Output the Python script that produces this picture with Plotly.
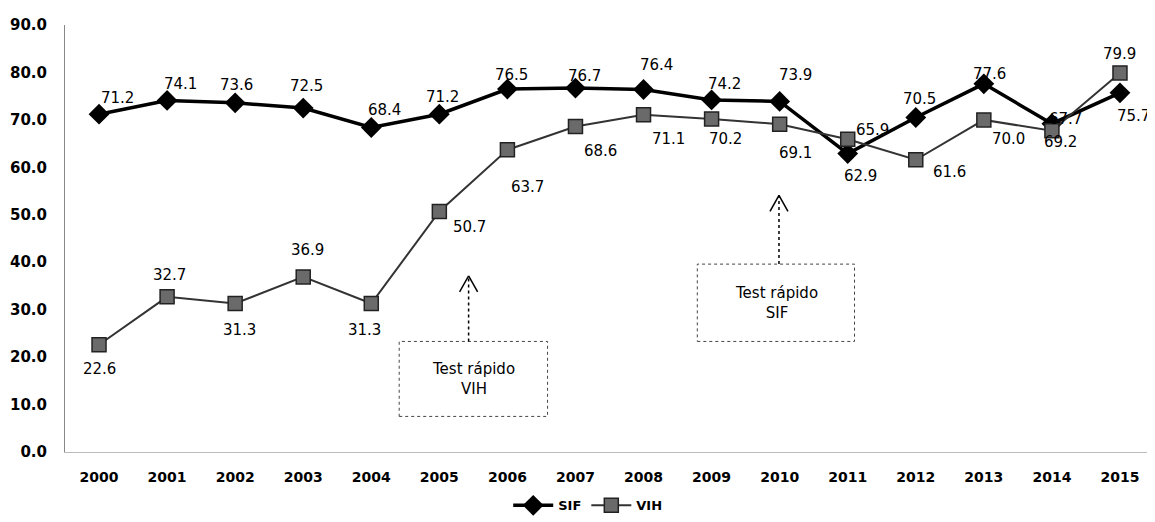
import plotly.graph_objects as go

years = list(range(2000, 2016))
sif = [71.2, 74.1, 73.6, 72.5, 68.4, 71.2, 76.5, 76.7, 76.4, 74.2, 73.9, 62.9, 70.5, 77.6, 69.2, 75.7]
vih = [22.6, 32.7, 31.3, 36.9, 31.3, 50.7, 63.7, 68.6, 71.1, 70.2, 69.1, 65.9, 61.6, 70.0, 67.7, 79.9]
y_ticks = [0, 10, 20, 30, 40, 50, 60, 70, 80, 90]

# label offsets in pixels (dx, dy with dy positive = up)
sif_off = [(18, 16), (13, 16), (1, 18), (3, 22), (13, 17), (3, 17), (4, 14), (9, 12), (13, 25),
           (13, 16), (16, 26), (13, -22), (4, 19), (6, 10), (9, -18), (14, -23)]
vih_off = [(0, -24), (2, 22), (4, -26), (4, 27), (-7, -26), (30, -16), (20, -37), (25, -24),
           (25, -24), (14, -20), (16, -29), (25, 9), (34, -12), (25, -19), (14, 12), (0, 19)]

font = "DejaVu Sans"
fig = go.Figure()
fig.add_trace(go.Scatter(x=years, y=sif, name="SIF", mode="lines+markers",
                         line=dict(color="black", width=3.5),
                         marker=dict(symbol="diamond", size=16, color="black")))
fig.add_trace(go.Scatter(x=years, y=vih, name="VIH", mode="lines+markers",
                         line=dict(color="#333333", width=2),
                         marker=dict(symbol="square", size=14, color="#6a6a6a",
                                     line=dict(color="#222222", width=1.5))))

ann = []
for x, v, (dx, dy) in zip(years, sif, sif_off):
    ann.append(dict(x=x, y=v, text=f"{v:.1f}", showarrow=False, xshift=dx, yshift=dy,
                    font=dict(family=font, size=15, color="black")))
for x, v, (dx, dy) in zip(years, vih, vih_off):
    ann.append(dict(x=x, y=v, text=f"{v:.1f}", showarrow=False, xshift=dx, yshift=dy,
                    font=dict(family=font, size=15, color="black")))

# callout boxes text
ann.append(dict(x=2005.5, y=15.4, text="Test rápido<br>VIH", showarrow=False,
                font=dict(family=font, size=15, color="black")))
ann.append(dict(x=2009.95, y=31.5, text="Test rápido<br>SIF", showarrow=False,
                font=dict(family=font, size=15, color="black")))

box_style = dict(color="#444444", width=1, dash="dot")
arrow_style = dict(color="black", width=1.5)
shapes = [
    dict(type="rect", xref="x", yref="y", x0=2004.41, x1=2006.59, y0=7.5, y1=23.3, line=box_style),
    dict(type="rect", xref="x", yref="y", x0=2008.79, x1=2011.10, y0=23.3, y1=39.6, line=box_style),
]
# callout arrows: dotted shaft + open head
for ax, y_base, y_tip in [(2005.43, 23.3, 37.1), (2009.99, 39.6, 54.1)]:
    shapes.append(dict(type="line", xref="x", yref="y", x0=ax, x1=ax, y0=y_base, y1=y_tip,
                       line=dict(color="black", width=1.5, dash="dot")))
    for side in (-1, 1):
        shapes.append(dict(type="line", xref="x", yref="y", xsizemode="pixel", ysizemode="pixel",
                           xanchor=ax, yanchor=y_tip, x0=0, y0=0, x1=9 * side, y1=-16,
                           line=arrow_style))

fig.update_layout(
    width=1155, height=522,
    margin=dict(l=57, r=9, t=17, b=78, autoexpand=False),
    plot_bgcolor="white", paper_bgcolor="white",
    font=dict(family=font, color="black"),
    annotations=ann, shapes=shapes,
    showlegend=True,
    legend=dict(orientation="h", x=0.48, xanchor="center", y=-0.125, yanchor="middle",
                font=dict(family=font, size=13, color="black", weight="bold"), itemwidth=40),
    xaxis=dict(range=[1999.5, 2015.5], tickmode="array", tickvals=years,
               ticktext=[str(y) for y in years], showgrid=False, zeroline=False,
               showline=True, linecolor="#bbbbbb", linewidth=1, ticks="", automargin=False,
               ticklabelstandoff=12,
               tickfont=dict(family=font, size=14, color="black", weight="bold")),
    yaxis=dict(range=[0, 90], tickmode="array", tickvals=y_ticks,
               ticktext=[f"{t:.1f}" for t in y_ticks], showgrid=False, zeroline=False,
               showline=True, linecolor="#888888", linewidth=1, ticks="", automargin=False,
               ticklabelstandoff=14,
               tickfont=dict(family=font, size=15, color="black", weight="bold")),
)

fig.write_html("out.html")
